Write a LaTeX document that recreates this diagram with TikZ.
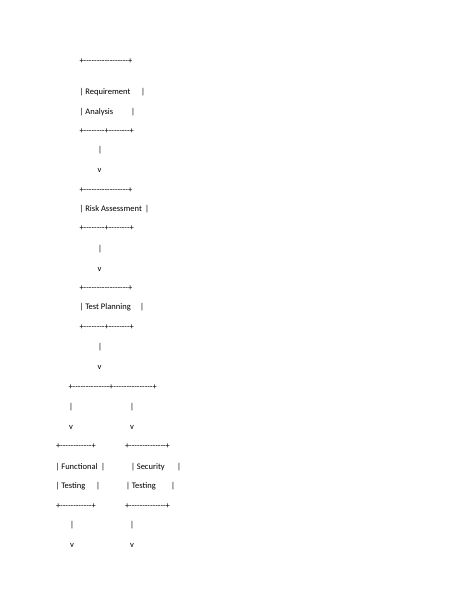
\documentclass[tikz,border=0pt]{standalone}
\usepackage{fontspec}
\setmainfont{Carlito}[Ligatures=TeXOff]
\newcommand\hy[1]{\foreach\k in {1,...,#1}{-\kern0pt}}
\begin{document}
\begin{tikzpicture}[x=1.2911pt,y=-1.2911pt,
  t/.style={inner sep=0pt,outer sep=0pt,font=\fontsize{11}{13}\selectfont,text=black},
  tl/.style={t,anchor=base west},
  tc/.style={t,anchor=base}]
\fill[white] (0,0) rectangle (474,613);
\useasboundingbox (0,0) rectangle (474,613);
% Requirement Analysis
\node[tl] (a1) at (79.5,63.6) {+\hy{17}+};
\node[tl] (a2) at (79.5,94.6) {| Requirement};
\node[tc] (a2r) at (143,94.6) {|};
\node[tl] (a3) at (79.5,114.6) {| Analysis};
\node[tc] (a3r) at (133,114.6) {|};
\node[tl] (a4) at (79.5,133.6) {+\hy{8}+\hy{8}+};
\node[tc] (a5) at (100,152.6) {|};
\node[tc] (a6) at (99.5,172) {v};
% Risk Assessment
\node[tl] (b1) at (79.5,192.6) {+\hy{17}+};
\node[tl] (b2) at (79.5,211.6) {| Risk Assessment};
\node[tc] (b2r) at (147,211.6) {|};
\node[tl] (b3) at (79.5,230.6) {+\hy{8}+\hy{8}+};
\node[tc] (b4) at (100,251.6) {|};
\node[tc] (b5) at (99.5,271) {v};
% Test Planning
\node[tl] (c1) at (79.5,290.6) {+\hy{17}+};
\node[tl] (c2) at (79.5,309.6) {| Test Planning};
\node[tc] (c2r) at (142,309.6) {|};
\node[tl] (c3) at (79.5,329.6) {+\hy{8}+\hy{8}+};
\node[tc] (c4) at (100,349.6) {|};
\node[tc] (c5) at (99.5,369) {v};
% split
\node[tl] (d1) at (68.5,389.6) {+\hy{14}+\hy{15}+};
\node[tc] (d2l) at (71,409.6) {|};
\node[tc] (d2r) at (132,409.6) {|};
\node[tc] (d3l) at (71,429) {v};
\node[tc] (d3r) at (132,429) {v};
% Functional / Security
\node[tl] (e1l) at (56,448.6) {+\hy{12}+};
\node[tl] (e1r) at (125,448.6) {+\hy{14}+};
\node[tl] (e2l) at (55.5,469.6) {| Functional};
\node[tc] (e2lr) at (103,469.6) {|};
\node[tl] (e2r) at (131,469.6) {| Security};
\node[tc] (e2rr) at (179,469.6) {|};
\node[tl] (e3l) at (55.5,488.6) {| Testing};
\node[tc] (e3lr) at (98,488.6) {|};
\node[tl] (e3r) at (126,488.6) {| Testing};
\node[tc] (e3rr) at (173,488.6) {|};
\node[tl] (e4l) at (56,508.6) {+\hy{12}+};
\node[tl] (e4r) at (125,508.6) {+\hy{14}+};
\node[tc] (e5l) at (72,527.6) {|};
\node[tc] (e5r) at (132,527.6) {|};
\node[tc] (e6l) at (72,547) {v};
\node[tc] (e6r) at (132,547) {v};
\end{tikzpicture}
\end{document}
